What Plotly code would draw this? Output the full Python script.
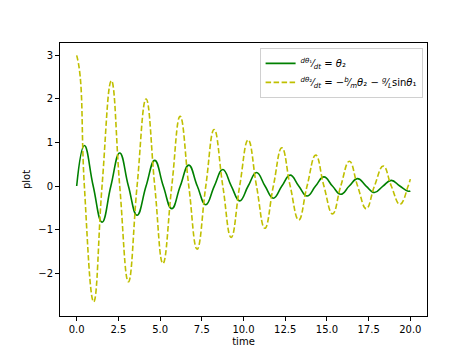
import plotly.graph_objects as go

# theta1 (green): extrema and zero crossings
theta1_t = [0.0, 0.46, 0.99, 1.52, 2.05, 2.58, 3.10, 3.62, 4.16, 4.68, 5.19, 5.70,
            6.21, 6.72, 7.23, 7.74, 8.25, 8.76, 9.27, 9.77, 10.28, 10.78, 11.29,
            11.79, 12.30, 12.80, 13.31, 13.81, 14.32, 14.82, 15.33, 15.83, 16.34,
            16.84, 17.35, 17.85, 18.36, 18.86, 19.37, 19.87, 20.0]
theta1_y = [0.0, 0.93, 0.0, -0.83, 0.0, 0.76, 0.0, -0.67, 0.0, 0.59, 0.0, -0.52,
            0.0, 0.48, 0.0, -0.43, 0.0, 0.38, 0.0, -0.34, 0.0, 0.31, 0.0,
            -0.28, 0.0, 0.25, 0.0, -0.23, 0.0, 0.21, 0.0, -0.19, 0.0,
            0.17, 0.0, -0.15, 0.0, 0.13, 0.0, -0.12, -0.11]

# theta2 (yellow dashed): extrema and zero crossings
theta2_t = [0.0, 0.2, 0.46, 1.02, 1.52, 2.08, 2.58, 3.10, 3.62, 4.16, 4.68, 5.17,
            5.70, 6.20, 6.72, 7.22, 7.74, 8.24, 8.76, 9.26, 9.77, 10.28, 10.78,
            11.28, 11.79, 12.30, 12.80, 13.31, 13.81, 14.33, 14.82, 15.34, 15.83,
            16.35, 16.84, 17.36, 17.85, 18.38, 18.86, 19.38, 19.87, 20.0]
theta2_y = [3.0, 2.55, 0.0, -2.66, 0.0, 2.42, 0.0, -2.2, 0.0, 2.0, 0.0, -1.78,
            0.0, 1.6, 0.0, -1.45, 0.0, 1.3, 0.0, -1.18, 0.0, 1.06, 0.0,
            -0.97, 0.0, 0.88, 0.0, -0.78, 0.0, 0.71, 0.0, -0.64, 0.0,
            0.57, 0.0, -0.52, 0.0, 0.46, 0.0, -0.42, 0.0, 0.16]

x_ticks = [0.0, 2.5, 5.0, 7.5, 10.0, 12.5, 15.0, 17.5, 20.0]
y_ticks = [-2, -1, 0, 1, 2, 3]

label1 = "<sup><i>dθ</i>₁</sup>⁄<sub><i>dt</i></sub> = <i>θ</i>₂"
label2 = ("<sup><i>dθ</i>₂</sup>⁄<sub><i>dt</i></sub> = −<sup><i>b</i></sup>⁄<sub><i>m</i></sub><i>θ</i>₂"
          " − <sup><i>g</i></sup>⁄<sub><i>L</i></sub>sin<i>θ</i>₁")

fig = go.Figure()
fig.add_trace(go.Scatter(x=theta1_t, y=theta1_y, mode="lines", name=label1,
                         line=dict(color="#008000", width=1.6, shape="spline", smoothing=1.3)))
fig.add_trace(go.Scatter(x=theta2_t, y=theta2_y, mode="lines", name=label2,
                         line=dict(color="#bfbf00", width=1.6, dash="5.5px,2.5px",
                                   shape="spline", smoothing=1.3)))

font = dict(family="DejaVu Sans", size=10, color="black")
axis_common = dict(showline=True, linecolor="black", linewidth=1, mirror=True,
                   ticks="outside", ticklen=4, tickcolor="black", showgrid=False,
                   zeroline=False, tickfont=font, automargin=False)
fig.update_layout(
    width=474, height=355,
    margin=dict(l=60, r=47, t=43, b=39),
    paper_bgcolor="white", plot_bgcolor="white",
    font=font,
    showlegend=True,
    legend=dict(x=0.988, y=0.982, xanchor="right", yanchor="top",
                bgcolor="rgba(255,255,255,0.8)", bordercolor="#d0d0d0", borderwidth=1,
                font=dict(family="DejaVu Sans", size=10), tracegroupgap=0,
                itemwidth=30),
    xaxis=dict(range=[-1.0, 21.0], tickvals=x_ticks,
               ticktext=[f"{v:.1f}" for v in x_ticks],
               title=dict(text="time", font=font, standoff=3), **axis_common),
    yaxis=dict(range=[-2.985, 3.285], tickvals=y_ticks,
               ticktext=[("−" if v < 0 else "") + str(abs(v)) for v in y_ticks],
               title=dict(text="plot", font=font, standoff=5), **axis_common),
)
fig.write_html("out.html", config={"displayModeBar": False},
               post_script="document.body.style.margin='0';document.body.style.overflow='hidden';")
